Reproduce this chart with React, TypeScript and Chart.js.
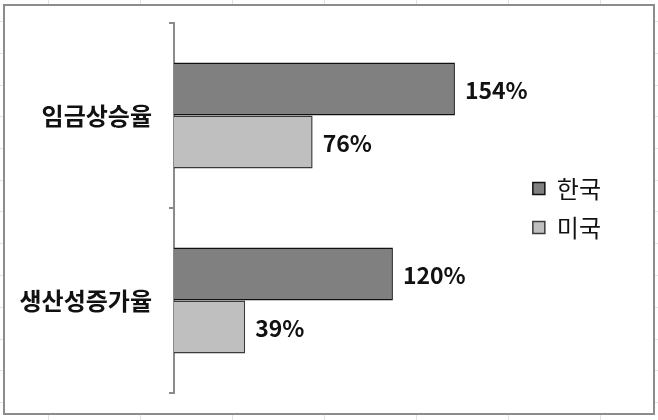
import { useEffect, useRef } from "react";
import { Chart, ChartConfiguration, Plugin, registerables } from "chart.js";

Chart.register(...registerables);

const categories = ["임금상승율", "생산성증가율"];
const seriesNames = ["한국", "미국"];
const koreaValues = [154, 120];
const usValues = [76, 39];

const FONT = "'Noto Sans CJK KR', 'Noto Sans', sans-serif";

// writes "154%" etc. just past the end of each bar
const barValueLabels: Plugin<"bar"> = {
  id: "barValueLabels",
  afterDatasetsDraw(chart) {
    const ctx = chart.ctx;
    ctx.save();
    ctx.font = `bold 23px ${FONT}`;
    ctx.fillStyle = "#111";
    ctx.textAlign = "left";
    ctx.textBaseline = "middle";
    chart.data.datasets.forEach((ds, di) => {
      const meta = chart.getDatasetMeta(di);
      meta.data.forEach((bar, i) => {
        const v = ds.data[i] as number;
        ctx.fillText(`${v}%`, bar.x + 10, bar.y + 1);
      });
    });
    ctx.restore();
  },
};

export default function App() {
  const canvasRef = useRef<HTMLCanvasElement>(null);
  const chartRef = useRef<Chart | null>(null);

  useEffect(() => {
    if (!canvasRef.current) return;
    if (chartRef.current) chartRef.current.destroy();

    const config: ChartConfiguration<"bar"> = {
      type: "bar",
      data: {
        labels: categories,
        datasets: [
          {
            label: seriesNames[0],
            data: koreaValues,
            backgroundColor: "#808080",
            borderColor: "#111111",
            borderWidth: 1.5,
            categoryPercentage: 0.573,
            barPercentage: 1,
          },
          {
            label: seriesNames[1],
            data: usValues,
            backgroundColor: "#bfbfbf",
            borderColor: "#3a3a3a",
            borderWidth: 1.5,
            categoryPercentage: 0.573,
            barPercentage: 1,
          },
        ],
      },
      options: {
        indexAxis: "y",
        animation: false,
        responsive: true,
        maintainAspectRatio: false,
        layout: { padding: { top: 17, bottom: 20, left: 0, right: 42 } },
        scales: {
          x: { display: false, min: 0, max: 188.5 },
          y: {
            afterFit(scale) {
              scale.width = 169;
              // labels sit inside their bands, no extra room needed
              scale.paddingTop = 0;
              scale.paddingBottom = 0;
            },
            border: { display: true, color: "#8a8a8a", width: 2 },
            grid: {
              drawOnChartArea: false,
              drawTicks: true,
              tickLength: 5,
              color: "#8a8a8a",
              lineWidth: 2,
            },
            ticks: {
              padding: 17,
              color: "#111",
              font: { family: FONT, size: 24, weight: "bold" },
            },
          },
        },
        plugins: {
          tooltip: { enabled: false },
          legend: {
            position: "right",
            labels: {
              boxWidth: 12,
              boxHeight: 12,
              padding: 15,
              color: "#111",
              font: { family: FONT, size: 24 },
            },
          },
        },
      },
      plugins: [barValueLabels],
    };

    chartRef.current = new Chart(canvasRef.current, config);
    return () => {
      chartRef.current?.destroy();
      chartRef.current = null;
    };
  }, []);

  return (
    <div
      style={{
        position: "fixed",
        left: 0,
        top: 0,
        width: 658,
        height: 420,
        background: "#fff",
        backgroundImage:
          "repeating-linear-gradient(to right, transparent 0, transparent 48px, #e2e2e2 48px, #e2e2e2 49px, transparent 49px, transparent 92px)," +
          "repeating-linear-gradient(to bottom, transparent 0, transparent 21px, #e2e2e2 21px, #e2e2e2 22px, transparent 22px, transparent 31.75px)",
      }}
    >
      <div
        style={{
          position: "absolute",
          left: 3,
          top: 4,
          width: 652,
          height: 411,
          boxSizing: "border-box",
          border: "2px solid #8c8c8c",
          background: "#fff",
        }}
      >
        <canvas ref={canvasRef} />
      </div>
    </div>
  );
}
